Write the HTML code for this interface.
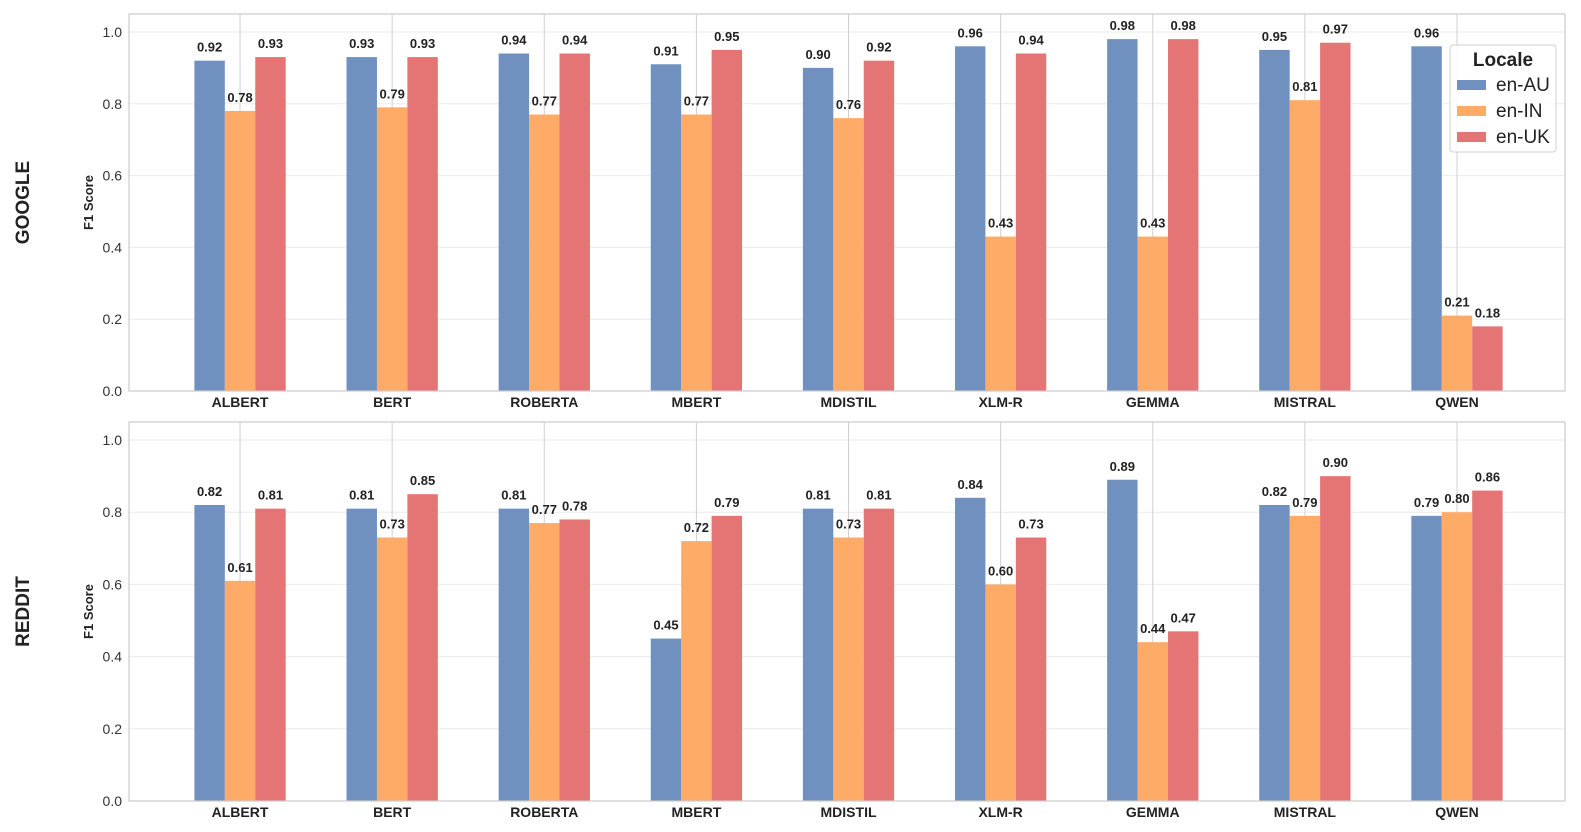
<!DOCTYPE html>
<html><head><meta charset="utf-8"><style>
html,body{margin:0;padding:0;background:#fff;}
svg{display:block;font-family:"Liberation Sans",Arial,sans-serif;}
</style></head><body>
<svg id="chart" width="1581" height="832" viewBox="0 0 1581 832"></svg>
<script>
const categories = ["ALBERT","BERT","ROBERTA","MBERT","MDISTIL","XLM-R","GEMMA","MISTRAL","QWEN"];
const locales = ["en-AU","en-IN","en-UK"];
const googleAU = [0.92,0.93,0.94,0.91,0.90,0.96,0.98,0.95,0.96];
const googleIN = [0.78,0.79,0.77,0.77,0.76,0.43,0.43,0.81,0.21];
const googleUK = [0.93,0.93,0.94,0.95,0.92,0.94,0.98,0.97,0.18];
const redditAU = [0.82,0.81,0.81,0.45,0.81,0.84,0.89,0.82,0.79];
const redditIN = [0.61,0.73,0.77,0.72,0.73,0.60,0.44,0.79,0.80];
const redditUK = [0.81,0.85,0.78,0.79,0.81,0.73,0.47,0.90,0.86];
const yTicks = [0.0,0.2,0.4,0.6,0.8,1.0];

const NS="http://www.w3.org/2000/svg";
const svg=document.getElementById('chart');
const colors=["#7090c0","#fdab67","#e57474"];
function mk(tag,attrs,parent){const e=document.createElementNS(NS,tag);for(const k in attrs)e.setAttribute(k,attrs[k]);(parent||svg).appendChild(e);return e;}
const L=129,R=1565,xmin=-0.73,xmax=8.71;
function xs(v){return L+(v-xmin)/(xmax-xmin)*(R-L);}
const panels=[
 {name:"google",label:"GOOGLE",top:14,bottom:391,series:[googleAU,googleIN,googleUK],legend:true},
 {name:"reddit",label:"REDDIT",top:422,bottom:801,series:[redditAU,redditIN,redditUK],legend:false}
];
panels.forEach(p=>{
 const g=mk('g',{});
 
 
 const ymax=1.05;
 const ys=v=>p.bottom-v/ymax*(p.bottom-p.top);
 const bg=mk('rect',{x:L,y:p.top,width:R-L,height:p.bottom-p.top,fill:"#fff"},g);
 
 yTicks.forEach(t=>{
  const ln=mk('line',{x1:L,x2:R,y1:ys(t),y2:ys(t),stroke:"#ebebeb","stroke-width":1},g);
  
  const tx=mk('text',{x:L-7,y:ys(t)+5,"text-anchor":"end","font-size":14,fill:"#333"},g);
  tx.textContent=t.toFixed(1);
  
 });
 categories.forEach((c,i)=>{
  const ln=mk('line',{x1:xs(i),x2:xs(i),y1:p.top,y2:p.bottom,stroke:"#d0d0d0","stroke-width":1},g);
  
 });
 const bw=0.2;
 p.series.forEach((arr,s)=>{
  arr.forEach((v,i)=>{
   const cx=i+(s-1)*bw;
   const x0=xs(cx-bw/2),x1=xs(cx+bw/2);
   const r=mk('rect',{x:x0,y:ys(v),width:x1-x0,height:p.bottom-ys(v),fill:colors[s]},g);
   
   
   const t=mk('text',{x:(x0+x1)/2,y:ys(v)-9,"text-anchor":"middle","font-size":13,"font-weight":"bold",fill:"#222"},g);
   t.textContent=v.toFixed(2);
   
  });
 });
 categories.forEach((c,i)=>{
  const t=mk('text',{x:xs(i),y:p.bottom+16,"text-anchor":"middle","font-size":14,"font-weight":"bold",fill:"#222"},g);
  t.textContent=c;
  
 });
 const fr=mk('rect',{x:L,y:p.top,width:R-L,height:p.bottom-p.top,fill:"none",stroke:"#cccccc","stroke-width":1.2},g);
 
 const mid=(p.top+p.bottom)/2;
 const yl=mk('text',{x:0,y:0,transform:`translate(93,${mid}) rotate(-90)`,"text-anchor":"middle","font-size":13,"font-weight":"bold",fill:"#222"},g);
 yl.textContent="F1 Score";
 
 const rl=mk('text',{x:0,y:0,transform:`translate(29,${mid}) rotate(-90)`,"text-anchor":"middle","font-size":19,"font-weight":"bold",fill:"#222"},g);
 rl.textContent=p.label;
 
 if(p.legend){
  const lg=mk('g',{},g);
  
  mk('rect',{x:1450,y:45,width:106,height:107,rx:3,fill:"rgba(255,255,255,0.85)",stroke:"#d0d0d0"},lg);
  const lt=mk('text',{x:1503,y:66,"text-anchor":"middle","font-size":19,"font-weight":"bold",fill:"#222"},lg);
  lt.textContent="Locale";
  
  locales.forEach((n,s)=>{
   const y=84+s*26;
   const e=mk('g',{},lg);
   
   mk('rect',{x:1457,y:y-4,width:29,height:10,fill:colors[s]},e);
   const t=mk('text',{x:1496,y:y+7,"font-size":19,fill:"#222"},e);
   t.textContent=n;
  });
 }
});
</script>
</body></html>
